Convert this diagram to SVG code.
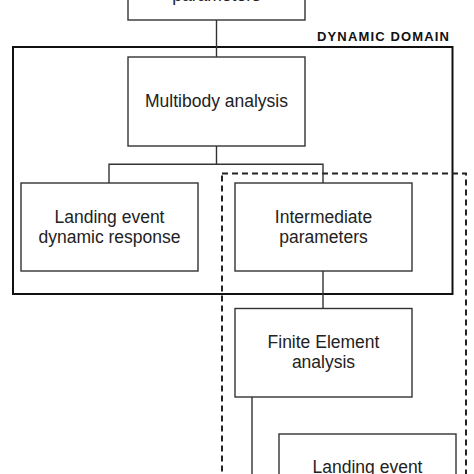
<svg xmlns="http://www.w3.org/2000/svg" width="474" height="474" viewBox="0 0 474 474">
<style>
.box{fill:#fff;stroke:#333;stroke-width:1.4}
.t{font-family:"Liberation Sans",Arial,sans-serif;font-size:17.5px;fill:#222;text-anchor:middle}
.c{fill:none;stroke:#333;stroke-width:1.4}
</style>
<rect width="474" height="474" fill="#fff"/>
<g id="dynamic-domain">
<rect x="13" y="47" width="439.5" height="247" fill="none" stroke="#111" stroke-width="2"/>
<text x="449" y="40.5" font-family="Liberation Sans,Arial,sans-serif" font-size="13" font-weight="bold" fill="#111" text-anchor="end" textLength="132" lengthAdjust="spacing">DYNAMIC DOMAIN</text>
</g>
<g id="dashed-region">
<rect x="222" y="173.5" width="244" height="320" fill="none" stroke="#222" stroke-width="2" stroke-dasharray="6 4"/>
</g>
<g id="connectors">
<path class="c" d="M216.5 20V57"/>
<path class="c" d="M216.5 146V164.3M109 183V164.3H323V183"/>
<path class="c" d="M323 271V308"/>
<path class="c" d="M252 397V474"/>
</g>
<g id="node-parameters">
<rect class="box" x="128" y="-70" width="177" height="90"/>
<text class="t" x="216.5" y="1">parameters</text>
</g>
<g id="node-multibody">
<rect class="box" x="128" y="57" width="177" height="89"/>
<text class="t" x="216.5" y="107">Multibody analysis</text>
</g>
<g id="node-landing-dynamic">
<rect class="box" x="21" y="183" width="177" height="88"/>
<text class="t" x="109.5" y="222.5">Landing event</text>
<text class="t" x="109.5" y="242.5">dynamic response</text>
</g>
<g id="node-intermediate">
<rect class="box" x="235" y="183" width="177" height="88"/>
<text class="t" x="323.5" y="222.5">Intermediate</text>
<text class="t" x="323.5" y="242.5">parameters</text>
</g>
<g id="node-fe">
<rect class="box" x="235" y="308.5" width="177" height="88.5"/>
<text class="t" x="323.5" y="348">Finite Element</text>
<text class="t" x="323.5" y="368">analysis</text>
</g>
<g id="node-landing-event">
<rect class="box" x="279" y="434" width="177" height="90"/>
<text class="t" x="367.5" y="473">Landing event</text>
</g>
</svg>
